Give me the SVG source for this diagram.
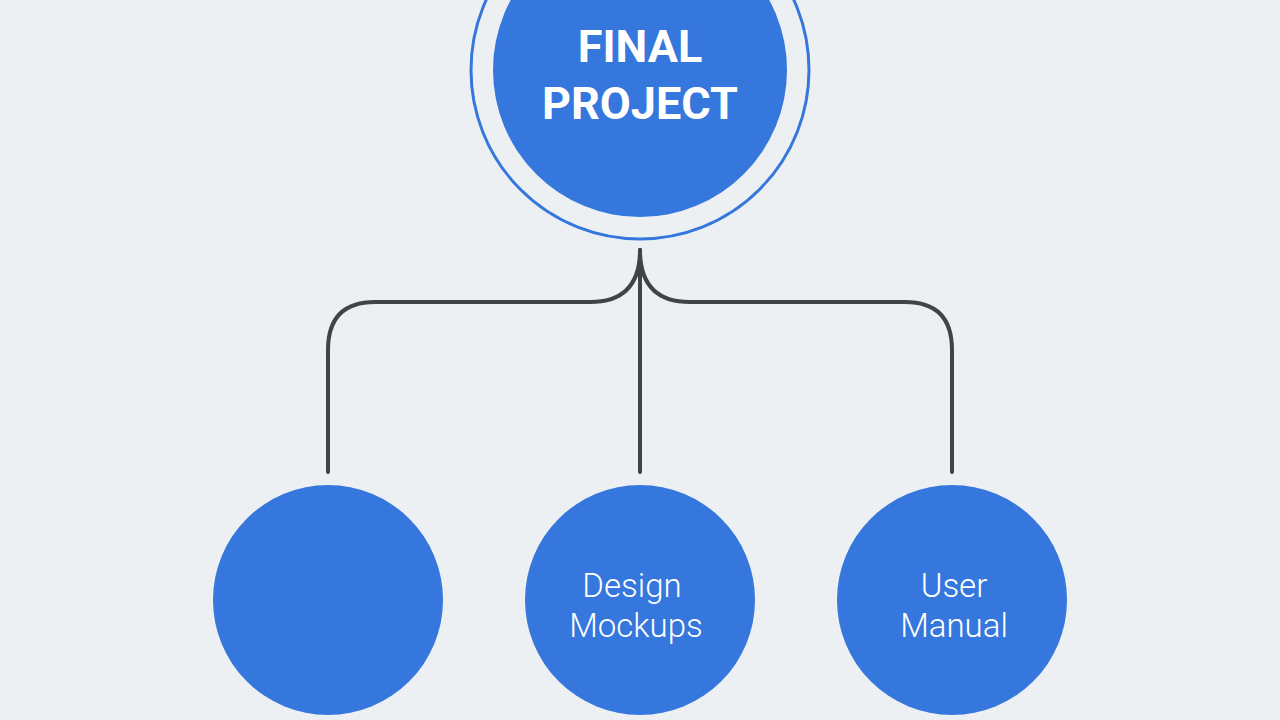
<svg xmlns="http://www.w3.org/2000/svg" width="1280" height="720" viewBox="0 0 1280 720">
<style>
.n{fill:#3577dd}
.t{fill:#fff;font-family:Roboto,"Liberation Sans",sans-serif;text-anchor:middle}
.c{fill:none;stroke:#3f4448;stroke-width:4;stroke-linecap:round}
</style>
<rect width="1280" height="720" fill="#edf0f3"/>
<g id="connectors">
<path class="c" d="M640 250 V472"/>
<path class="c" d="M640 250 Q640 302 590 302 H375 Q328 302 328 350 V472"/>
<path class="c" d="M640 250 Q640 302 690 302 H905 Q952 302 952 350 V472"/>
</g>
<g id="final-project">
<circle cx="640" cy="70" r="169" fill="none" stroke="#3577dd" stroke-width="3"/>
<circle class="n" cx="640" cy="70" r="147"/>
<text class="t" x="640" y="62" font-size="45" font-weight="bold">FINAL</text>
<text class="t" x="640" y="119" font-size="45" font-weight="bold">PROJECT</text>
</g>
<g id="node-left"><circle class="n" cx="328" cy="600" r="115"/></g>
<g id="design-mockups">
<circle class="n" cx="640" cy="600" r="115"/>
<text class="t" x="632" y="597" font-size="33" font-weight="300">Design</text>
<text class="t" x="636" y="637" font-size="33" font-weight="300">Mockups</text>
</g>
<g id="user-manual">
<circle class="n" cx="952" cy="600" r="115"/>
<text class="t" x="954" y="597" font-size="33" font-weight="300">User</text>
<text class="t" x="954" y="637" font-size="33" font-weight="300">Manual</text>
</g>
</svg>
